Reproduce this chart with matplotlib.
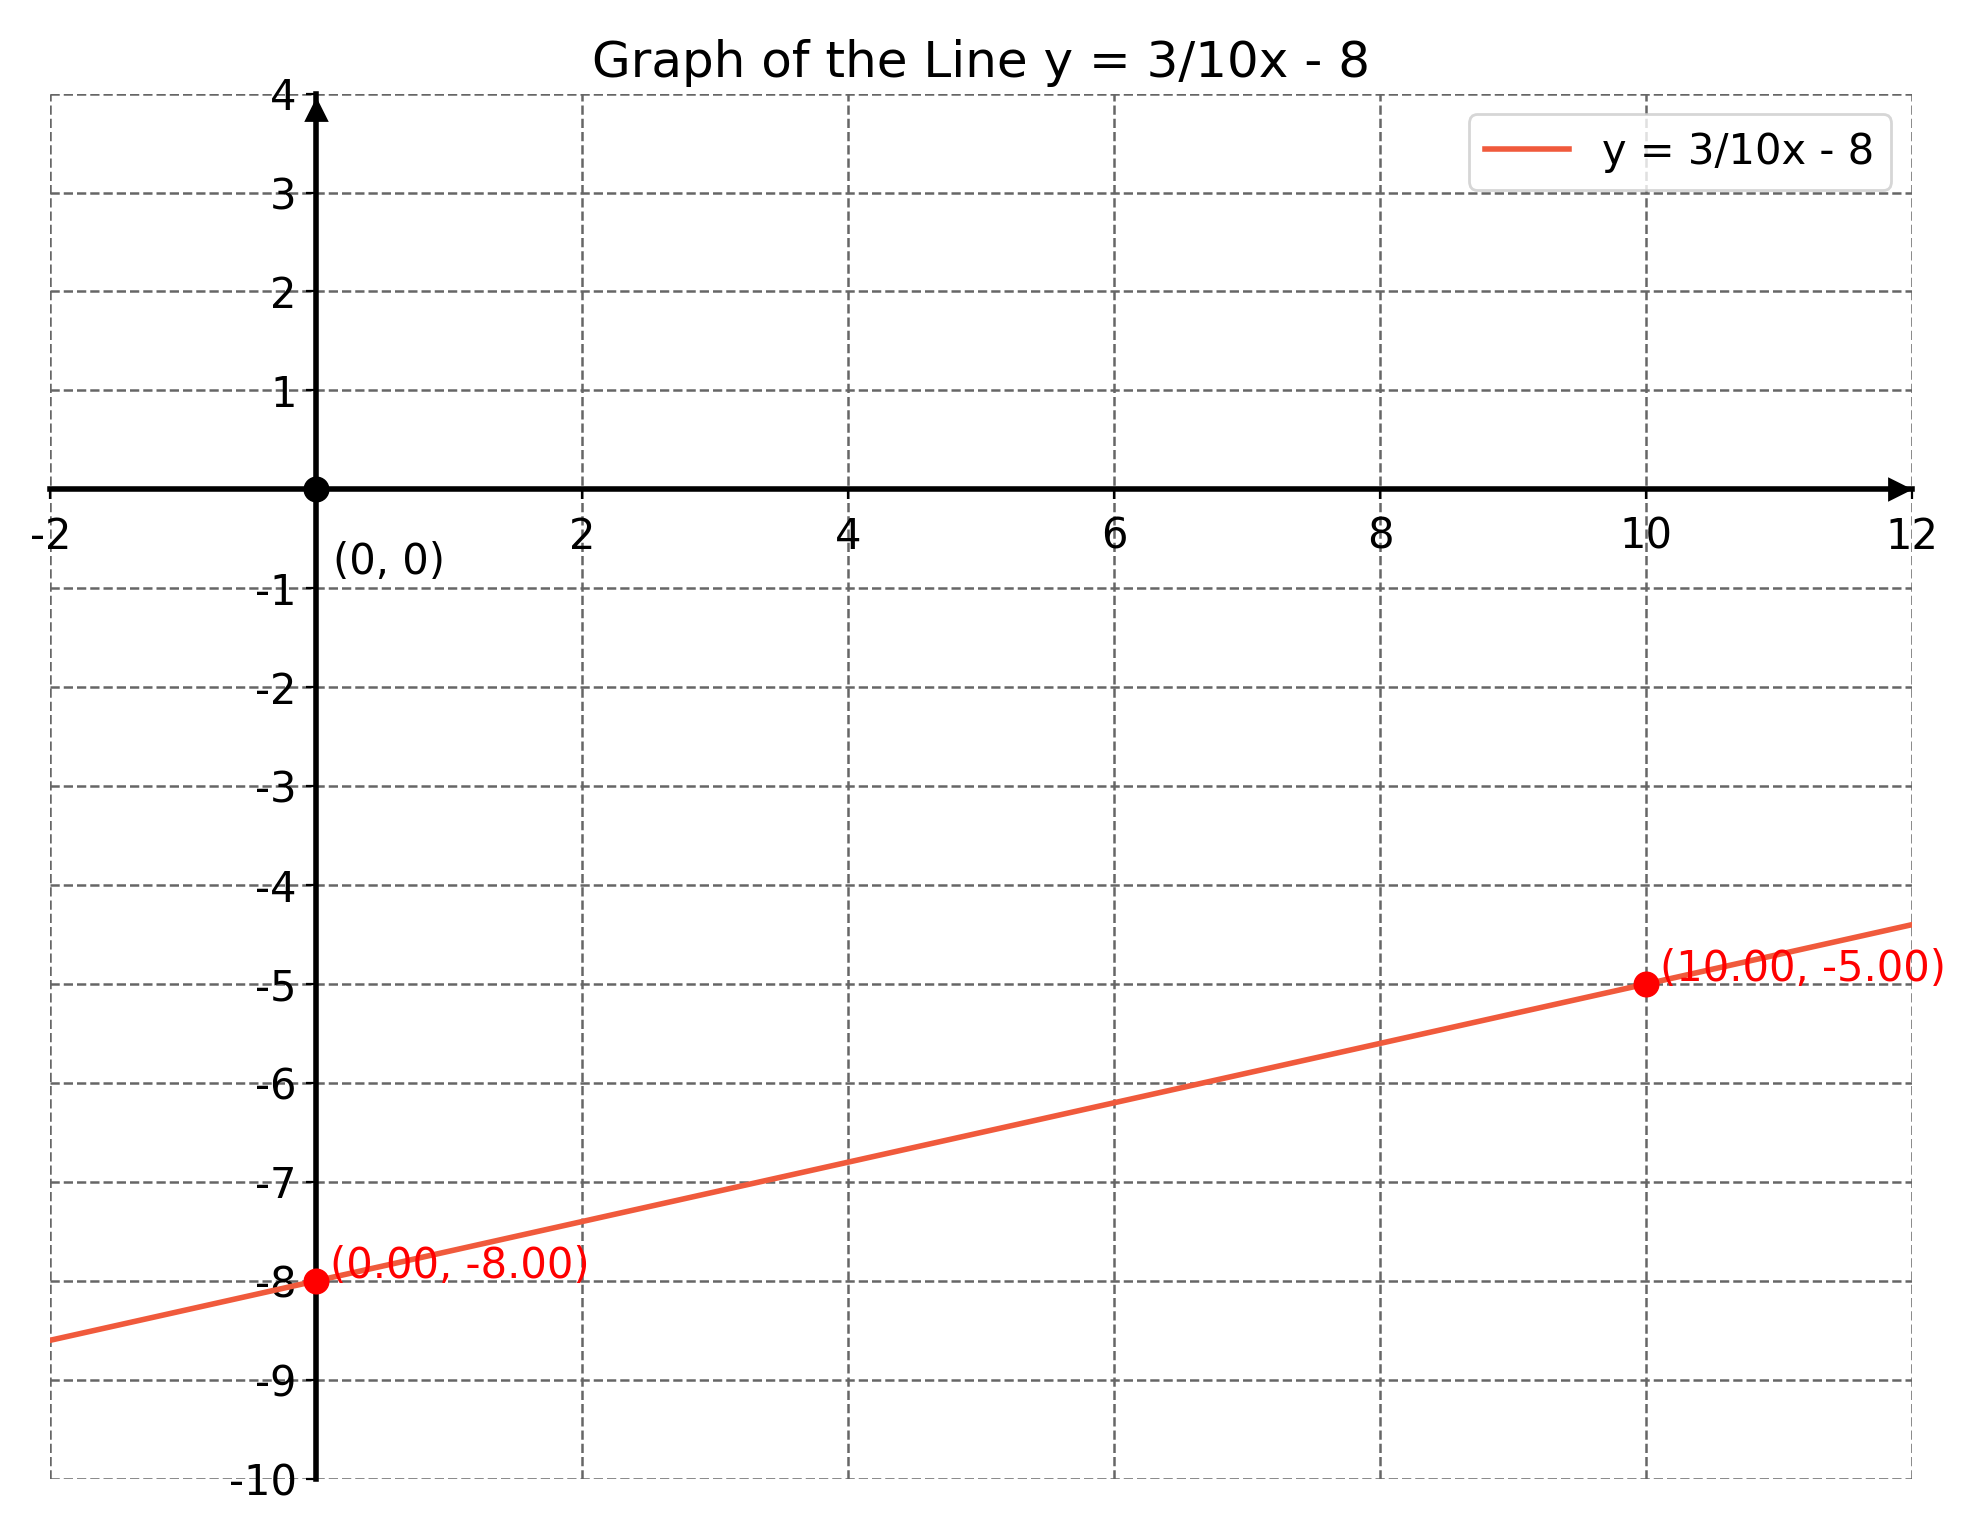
import numpy as np
import matplotlib.pyplot as plt

slope = 3 / 10
intercept = -8
x_range = [-2, 12]
points_x = [0.0, 10.0]
points_y = [-8.0, -5.0]
x_ticks = [-2, 2, 4, 6, 8, 10, 12]
y_ticks = [-10, -9, -8, -7, -6, -5, -4, -3, -2, -1, 1, 2, 3, 4]

fig = plt.figure(figsize=(9.87, 7.67), dpi=200)
ax = fig.add_axes([0.0255, 0.036, 0.943, 0.903])

x = np.array(x_range, dtype=float)
ax.plot(x, slope * x + intercept, color='#f05a3c', lw=2, label='y = 3/10x - 8', zorder=3)
ax.scatter(points_x, points_y, color='red', s=70, zorder=4)
for px, py in zip(points_x, points_y):
    ax.annotate(f'({px:.2f}, {py:.2f})', (px, py), xytext=(5, 1), textcoords='offset points',
                color='red', fontsize=15)

ax.scatter([0], [0], color='black', s=70, zorder=5)
ax.annotate('(0, 0)', (0, 0), xytext=(6, -26), textcoords='offset points', fontsize=15, va='center')

ax.set_xlim(-2, 12)
ax.set_ylim(-10, 4)
ax.spines['left'].set_position('zero')
ax.spines['bottom'].set_position('zero')
ax.spines['top'].set_visible(False)
ax.spines['right'].set_visible(False)
ax.spines['left'].set_linewidth(2)
ax.spines['bottom'].set_linewidth(2)
ax.plot(0.993, 0, '>k', transform=ax.get_yaxis_transform(), clip_on=False, ms=7)
ax.plot(0, 0.988, '^k', transform=ax.get_xaxis_transform(), clip_on=False, ms=7)

ax.set_xticks(x_ticks)
ax.set_yticks(y_ticks)
ax.set_xticklabels([str(t) for t in x_ticks])
ax.set_yticklabels([str(t) for t in y_ticks])
ax.tick_params(labelsize=15)
ax.tick_params(axis='x', pad=6)
ax.grid(True, linestyle='--', color='#666666', lw=0.9)
ax.set_title('Graph of the Line y = 3/10x - 8', fontsize=18, pad=6)
ax.legend(loc='upper right', fontsize=15)

fig.savefig('out.png', dpi=200)
